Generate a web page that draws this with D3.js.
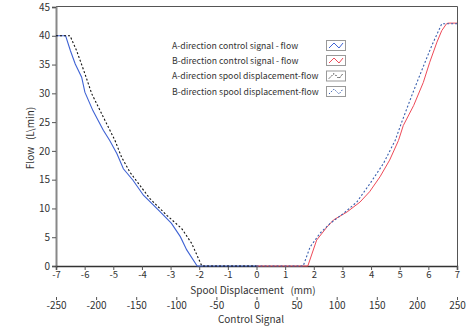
<!DOCTYPE html>
<html>
<head>
<meta charset="utf-8">
<script src="https://cdn.jsdelivr.net/npm/d3@7"></script>
<style>
  html, body { margin: 0; padding: 0; background: #fff; }
  svg { display: block; font-family: "Noto Sans CJK SC", "Noto Sans", sans-serif; }
</style>
</head>
<body>
<svg id="chart" width="474" height="327"></svg>
<script>
// Flow vs. control signal (signal units) and vs. spool displacement (mm)
const aSignal = [-250, -238, -232, -226, -218, -214, -204, -191, -183, -174, -166, -154, -141, -120, -106, -95, -87, -74, 0];
const aSignalFlow = [40, 40, 37.4, 35.1, 32.8, 30.2, 27.0, 23.6, 21.8, 19.5, 16.9, 14.9, 12.3, 9.4, 7.4, 5.1, 2.8, 0, 0];

const bSignal = [0, 64, 75, 88, 96, 113, 129, 141, 154, 166, 177, 183, 196, 208, 216, 225, 231, 237, 239, 250];
const bSignalFlow = [0, 0, 4.5, 6.8, 8.0, 9.4, 11.1, 12.9, 15.5, 18.4, 21.8, 24.4, 27.9, 31.9, 35.4, 38.9, 40.9, 42.1, 42.2, 42.2];

const aSpool = [-7, -6.51, -6.28, -5.99, -5.75, -5.35, -4.94, -4.71, -4.42, -3.72, -3.13, -2.61, -2.26, -1.91, 0];
const aSpoolFlow = [40, 40, 37.4, 33.4, 29.9, 25.9, 21.8, 18.9, 16.3, 11.7, 8.8, 6.5, 3.9, 0, 0];

const bSpool = [0, 1.63, 1.87, 2.22, 2.57, 3.03, 3.50, 3.96, 4.43, 4.84, 5.07, 5.42, 5.77, 6.12, 6.47, 7];
const bSpoolFlow = [0, 0, 3.3, 5.7, 7.4, 9.1, 11.1, 14.3, 17.8, 21.8, 25.0, 29.6, 34.0, 38.3, 42.1, 42.1];

const flowTicks = [0, 5, 10, 15, 20, 25, 30, 35, 40, 45];
const spoolTicks = [-7, -6, -5, -4, -3, -2, -1, 0, 1, 2, 3, 4, 5, 6, 7];
const signalTicks = [-250, -200, -150, -100, -50, 0, 50, 100, 150, 200, 250];

const legendLabels = [
  "A-direction control signal - flow",
  "B-direction control signal - flow",
  "A-direction spool displacement-flow",
  "B-direction spool displacement-flow"
];

const svg = d3.select("#chart");
const plotL = 56, plotR = 457, plotT = 7, plotB = 266;
const FONT = "Noto Sans CJK SC, Noto Sans, sans-serif";

const xSpool = d3.scaleLinear().domain([-7, 7]).range([plotL, plotR]);
const xSignal = d3.scaleLinear().domain([-250, 250]).range([plotL, plotR]);
const y = d3.scaleLinear().domain([0, 45]).range([plotB, plotT]);

// frame (top and right)
svg.append("path")
  .attr("d", `M${plotL},${plotT - 0.5}H${plotR + 0.5}V${plotB}`)
  .attr("fill", "none").attr("stroke", "#555").attr("stroke-width", 1);

function styleTicks(g, size) {
  g.selectAll(".tick line").attr("stroke", "#555");
  g.selectAll(".tick text").attr("fill", "#333").style("font-size", size + "px")
    .style("font-family", FONT);
}
const plain = d => String(d);

// y axis
const gy = svg.append("g").attr("transform", `translate(${plotL},0)`)
  .call(d3.axisLeft(y).tickValues(flowTicks).tickFormat(plain).tickSize(4).tickPadding(2));
gy.select(".domain").attr("stroke", "#888").attr("stroke-width", 2);
styleTicks(gy, 10);

// spool displacement axis
const gx = svg.append("g").attr("transform", `translate(0,${plotB})`)
  .call(d3.axisBottom(xSpool).tickValues(spoolTicks).tickFormat(plain).tickSize(4).tickPadding(1));
gx.select(".domain").attr("stroke", "#333").attr("stroke-width", 1.5);
styleTicks(gx, 9.5);

// control signal axis (ticks only)
const gs = svg.append("g").attr("transform", `translate(0,297)`)
  .call(d3.axisBottom(xSignal).tickValues(signalTicks).tickFormat(plain).tickSize(3).tickPadding(2));
gs.select(".domain").remove();
styleTicks(gs, 10);

// axis titles
svg.append("text").attr("x", 253).attr("y", 294).attr("text-anchor", "middle")
  .attr("fill", "#333").style("font-size", "10px").attr("xml:space", "preserve")
  .text("Spool Displacement   (mm)");
svg.append("text").attr("x", 251).attr("y", 323).attr("text-anchor", "middle")
  .attr("fill", "#333").style("font-size", "10px").text("Control Signal");
svg.append("text").attr("transform", "translate(34,138) rotate(-90)")
  .attr("text-anchor", "middle").attr("fill", "#333").style("font-size", "10px")
  .attr("xml:space", "preserve").text("Flow   (L\\min)");

// series
const line = (xs, xScale, ys) => d3.line()
  .x((d, i) => xScale(xs[i])).y(d => y(d))(ys);

const series = [
  { xs: aSignal, sx: xSignal, ys: aSignalFlow, color: "#3f63d4", dash: null, w: 1.1 },
  { xs: bSignal, sx: xSignal, ys: bSignalFlow, color: "#ee4a58", dash: null, w: 1 },
  { xs: aSpool, sx: xSpool, ys: aSpoolFlow, color: "#111", dash: "2,2", w: 1.1 },
  { xs: bSpool, sx: xSpool, ys: bSpoolFlow, color: "#3a5fae", dash: "2,2", w: 1.1 }
];

series.forEach(s => {
  svg.append("path").attr("d", line(s.xs, s.sx, s.ys))
    .attr("fill", "none").attr("stroke", s.color).attr("stroke-width", s.w)
    .attr("stroke-dasharray", s.dash);
});

// legend: text sized so the longest entry ends before the swatches
const lg = svg.append("g");
const rowY = [45, 60, 75.5, 91];
const texts = legendLabels.map((t, i) =>
  lg.append("text").attr("x", 172).attr("y", rowY[i] + 3.5)
    .attr("fill", "#333").style("font-size", "10px").text(t));
const widest = d3.max(texts, t => t.node().getComputedTextLength());
const fs = Math.min(10, 10 * 147 / widest);
texts.forEach(t => t.style("font-size", fs + "px"));

legendLabels.forEach((t, i) => {
  const bx = 326, by = rowY[i] - 5;
  lg.append("rect").attr("x", bx + 0.5).attr("y", by + 0.5).attr("width", 19).attr("height", 10)
    .attr("fill", "#fff").attr("stroke", "#999").attr("stroke-width", 1);
  lg.append("path")
    .attr("d", `M${bx + 3},${by + 8}L${bx + 8},${by + 3}L${bx + 13},${by + 8}L${bx + 17},${by + 3}`)
    .attr("fill", "none").attr("stroke", series[i].color).attr("stroke-width", 1)
    .attr("stroke-dasharray", series[i].dash ? "1.5,1.5" : null);
});
</script>
</body>
</html>
